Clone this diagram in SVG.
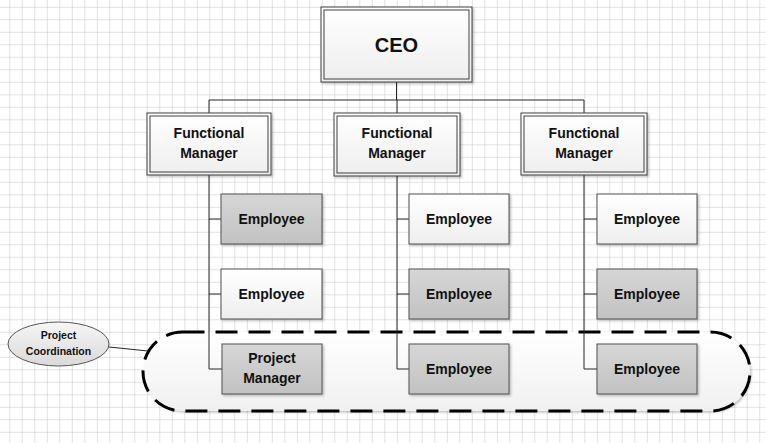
<svg xmlns="http://www.w3.org/2000/svg" width="766" height="443" viewBox="0 0 766 443">
<defs>
<pattern id="grid" x="9.3" y="6.8" width="12.5" height="12.5" patternUnits="userSpaceOnUse">
<path d="M0 0 V12.5 M0 0 H12.5" fill="none" stroke="#c4c4c4" stroke-width="1"/>
</pattern>
<linearGradient id="gWhite" x1="0" y1="0" x2="0" y2="1"><stop offset="0" stop-color="#ffffff"/><stop offset="1" stop-color="#eeeeee"/></linearGradient>
<linearGradient id="gGray" x1="0" y1="0" x2="0" y2="1"><stop offset="0" stop-color="#d6d6d6"/><stop offset="1" stop-color="#c2c2c2"/></linearGradient>
<linearGradient id="gEll" x1="0" y1="0" x2="0" y2="1"><stop offset="0" stop-color="#f6f6f6"/><stop offset="1" stop-color="#d9d9d9"/></linearGradient>
<linearGradient id="gPill" x1="0" y1="0" x2="0" y2="1"><stop offset="0" stop-color="#ffffff"/><stop offset="1" stop-color="#f0f0f0"/></linearGradient>
<filter id="sh" x="-10%" y="-10%" width="130%" height="140%">
<feDropShadow dx="1.5" dy="1.5" stdDeviation="1.2" flood-color="#000" flood-opacity="0.25"/>
</filter>
</defs>
<style>
.outer{fill:url(#gWhite);stroke:#404040;stroke-width:1}
.inner{fill:none;stroke:#404040;stroke-width:1}
.emp{stroke:#505050;stroke-width:1}
.w{fill:url(#gWhite)}
.g{fill:url(#gGray)}
.t{font-family:"Liberation Sans",Arial,sans-serif;font-weight:bold;fill:#111;text-anchor:middle}
.conn{fill:none;stroke:#262626;stroke-width:1}
</style>
<rect width="766" height="443" fill="#ffffff"/>
<rect width="766" height="443" fill="url(#grid)"/>

<g id="project-group">
<rect x="143" y="332" width="607" height="79" rx="39.5" ry="39.5" fill="url(#gPill)" filter="url(#sh)"/>
<rect x="143" y="332" width="607" height="79" rx="39.5" ry="39.5" fill="none" stroke="#000" stroke-width="3" stroke-dasharray="22 11"/>
</g>

<g id="connectors">
<path class="conn" d="M396.5 82 V100 M209 100 H584 M209 100 V113 M397 100 V113 M584 100 V113"/>
<path class="conn" d="M209 175 V369 M209 219 H221 M209 294 H221 M209 369 H222"/>
<path class="conn" d="M397 176 V369 M397 219 H409 M397 294 H409 M397 369 H409"/>
<path class="conn" d="M584 175 V369 M584 219 H597 M584 294 H597 M584 369 H597"/>
<path class="conn" d="M109 347 L148 351" stroke="#444"/>
</g>

<g id="ceo">
<rect class="outer" x="321" y="7" width="151" height="75" filter="url(#sh)"/>
<rect class="inner" x="324" y="10" width="145" height="69"/>
<text class="t" x="396.5" y="52" font-size="20">CEO</text>
</g>

<g id="fm1">
<rect class="outer" x="147" y="113" width="124" height="62" filter="url(#sh)"/>
<rect class="inner" x="150" y="116" width="118" height="56"/>
<text class="t" x="209" y="138" font-size="14">Functional</text>
<text class="t" x="209" y="158" font-size="14">Manager</text>
</g>
<g id="fm2">
<rect class="outer" x="334" y="113" width="126" height="63" filter="url(#sh)"/>
<rect class="inner" x="337" y="116" width="120" height="57"/>
<text class="t" x="397" y="138" font-size="14">Functional</text>
<text class="t" x="397" y="158" font-size="14">Manager</text>
</g>
<g id="fm3">
<rect class="outer" x="521" y="113" width="126" height="62" filter="url(#sh)"/>
<rect class="inner" x="524" y="116" width="120" height="56"/>
<text class="t" x="584" y="138" font-size="14">Functional</text>
<text class="t" x="584" y="158" font-size="14">Manager</text>
</g>

<g id="emp-1-1"><rect class="emp g" x="221" y="194" width="101" height="50" filter="url(#sh)"/><text class="t" x="271.5" y="224" font-size="14">Employee</text></g>
<g id="emp-1-2"><rect class="emp w" x="221" y="269" width="101" height="50" filter="url(#sh)"/><text class="t" x="271.5" y="299" font-size="14">Employee</text></g>
<g id="pm"><rect class="emp g" x="222" y="344" width="100" height="50" filter="url(#sh)"/><text class="t" x="272" y="363" font-size="14">Project</text><text class="t" x="272" y="383" font-size="14">Manager</text></g>

<g id="emp-2-1"><rect class="emp w" x="409" y="194" width="100" height="50" filter="url(#sh)"/><text class="t" x="459" y="224" font-size="14">Employee</text></g>
<g id="emp-2-2"><rect class="emp g" x="409" y="269" width="100" height="50" filter="url(#sh)"/><text class="t" x="459" y="299" font-size="14">Employee</text></g>
<g id="emp-2-3"><rect class="emp g" x="409" y="344" width="100" height="50" filter="url(#sh)"/><text class="t" x="459" y="374" font-size="14">Employee</text></g>

<g id="emp-3-1"><rect class="emp w" x="597" y="194" width="100" height="50" filter="url(#sh)"/><text class="t" x="647" y="224" font-size="14">Employee</text></g>
<g id="emp-3-2"><rect class="emp g" x="597" y="269" width="100" height="50" filter="url(#sh)"/><text class="t" x="647" y="299" font-size="14">Employee</text></g>
<g id="emp-3-3"><rect class="emp g" x="597" y="344" width="100" height="50" filter="url(#sh)"/><text class="t" x="647" y="374" font-size="14">Employee</text></g>

<g id="project-coordination">
<ellipse cx="58.5" cy="344" rx="50.5" ry="22" fill="url(#gEll)" stroke="#555" stroke-width="1"/>
<text class="t" x="58.5" y="339" font-size="10.5">Project</text>
<text class="t" x="58.5" y="355" font-size="10.5">Coordination</text>
</g>
</svg>
